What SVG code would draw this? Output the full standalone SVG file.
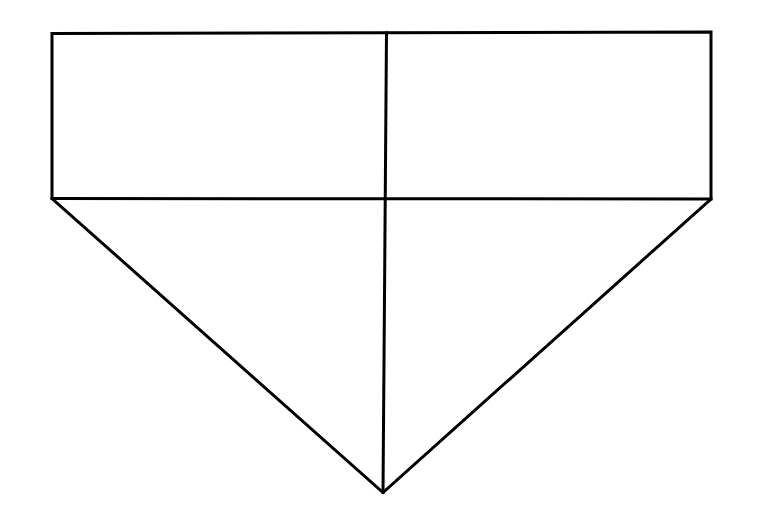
<svg xmlns="http://www.w3.org/2000/svg" width="768" height="512" viewBox="0 0 768 512">
<style>.s{fill:none;stroke:#000;stroke-width:3;stroke-linejoin:miter;stroke-linecap:square}</style>
<rect width="768" height="512" fill="#fff"/>
<g id="shape">
<polygon class="s" points="52,33.5 711,32 711,199 383,492.5 52,198.5"/>
<line class="s" x1="52" y1="198.5" x2="711" y2="199"/>
<line class="s" x1="386.5" y1="33" x2="383" y2="492.5"/>
</g>
</svg>
